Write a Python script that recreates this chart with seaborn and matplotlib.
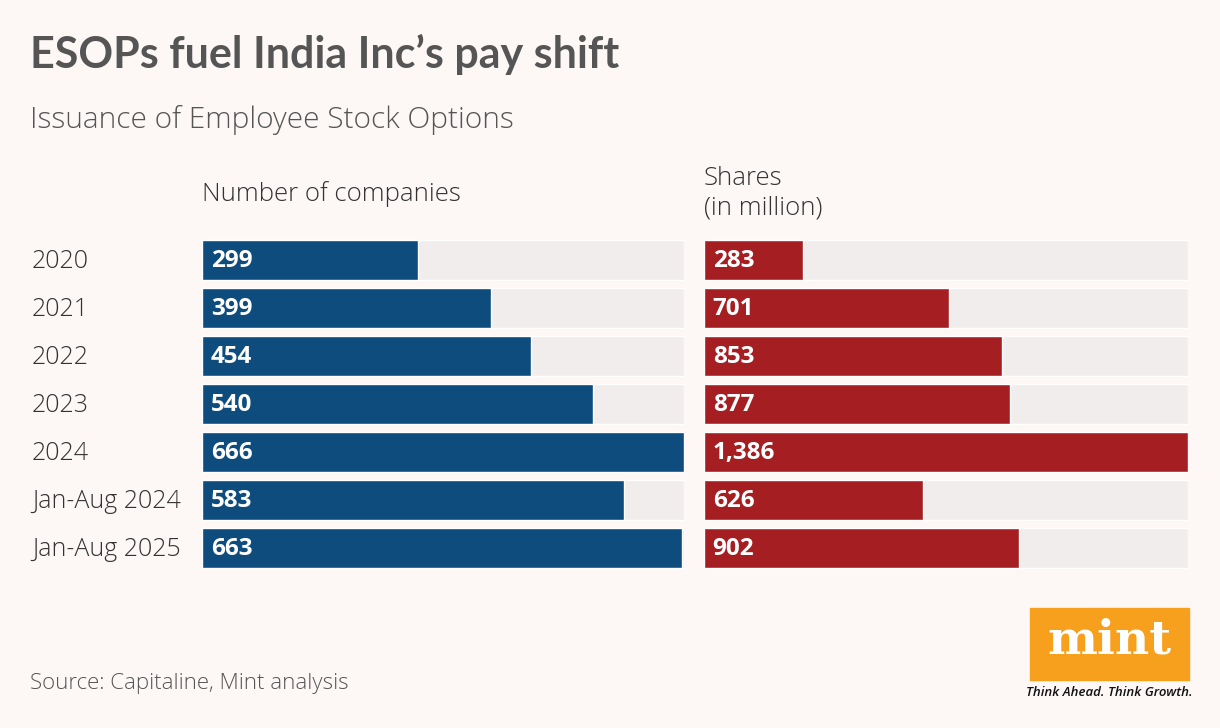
import matplotlib
matplotlib.use('Agg')
import matplotlib.pyplot as plt
import seaborn as sns
import pandas as pd
from matplotlib.patches import Rectangle

years = ['2020', '2021', '2022', '2023', '2024', 'Jan-Aug 2024', 'Jan-Aug 2025']
companies = [299, 399, 454, 540, 666, 583, 663]
shares = [283, 701, 853, 877, 1386, 626, 902]

BG = '#fdf7f6'
TRACK = '#f2eded'
BLUE = '#0d4c7c'
RED = '#a51e22'
GREY = '#555555'
DARK = '#333333'

sns.set_theme(style='white')
plt.rcParams['font.family'] = ['Open Sans', 'DejaVu Sans']

df = pd.DataFrame({'year': years, 'companies': companies, 'shares': shares})

fig = plt.figure(figsize=(12.2, 7.28), dpi=100, facecolor=BG)
ax1 = fig.add_axes([202/1220, 1 - 572/728, 482/1220, 336/728])
ax2 = fig.add_axes([704/1220, 1 - 572/728, 484/1220, 336/728])

for ax, col, color in [(ax1, 'companies', BLUE), (ax2, 'shares', RED)]:
    ax.set_facecolor(BG)
    vmax = df[col].max()
    # background tracks
    ax.barh(range(len(df)), [vmax] * len(df), height=0.83, color=TRACK, zorder=0)
    sns.barplot(data=df, x=col, y='year', ax=ax, color=color, width=0.83,
                saturation=1, zorder=1)
    for i, v in enumerate(df[col]):
        ax.text(vmax * 0.018, i + 0.02, f'{v:,}', color='white', fontsize=17.5,
                fontweight='bold', va='center', ha='left', zorder=2)
    ax.set_xlim(0, vmax)
    ax.set_ylim(len(df) - 0.5, -0.5)
    ax.set_xlabel('')
    ax.set_ylabel('')
    ax.set_xticks([])
    sns.despine(ax=ax, left=True, bottom=True)

ax1.tick_params(axis='y', length=0, labelsize=18, labelcolor=DARK, pad=0)
ax1.set_yticks([y - 0.04 for y in range(len(years))])
ax1.set_yticklabels(years, fontweight='light')
for lbl in ax1.get_yticklabels():
    lbl.set_horizontalalignment('left')
    lbl.set_x(-170/482)
ax2.set_yticks([])

fig.text(30/1220, 1 - 54/728, 'ESOPs fuel India Inc\u2019s pay shift', fontsize=31,
         fontweight='bold', family=['Lato', 'DejaVu Sans'], color=GREY,
         va='center', ha='left')
fig.text(30/1220, 1 - 120/728, 'Issuance of Employee Stock Options', fontsize=21.5,
         fontweight='light', color=GREY, va='center', ha='left')
fig.text(202/1220, 1 - 194/728, 'Number of companies', fontsize=18.5,
         fontweight='light', color=DARK, va='center', ha='left')
fig.text(704/1220, 1 - 193/728, 'Shares\n(in million)', fontsize=18.5,
         fontweight='light', color=DARK, va='center', ha='left', linespacing=1.25)
fig.text(30/1220, 1 - 683/728, 'Source: Capitaline, Mint analysis', fontsize=16,
         fontweight='light', color=GREY, va='center', ha='left')

# logo
fig.patches.append(Rectangle((1030/1220, 1 - 680/728), 159/1220, 72/728,
                             transform=fig.transFigure, color='#f7a01e', zorder=0))
fig.text(1109/1220, 1 - 641/728, 'mint', fontsize=34, fontweight='bold',
         family=['DejaVu Serif'], color='white', va='center', ha='center')
fig.text(1109/1220, 1 - 692/728, 'Think Ahead. Think Growth.', fontsize=9.5,
         style='italic', fontweight='semibold', color='#111111',
         va='center', ha='center')

fig.savefig('out.png', dpi=100, facecolor=BG)
